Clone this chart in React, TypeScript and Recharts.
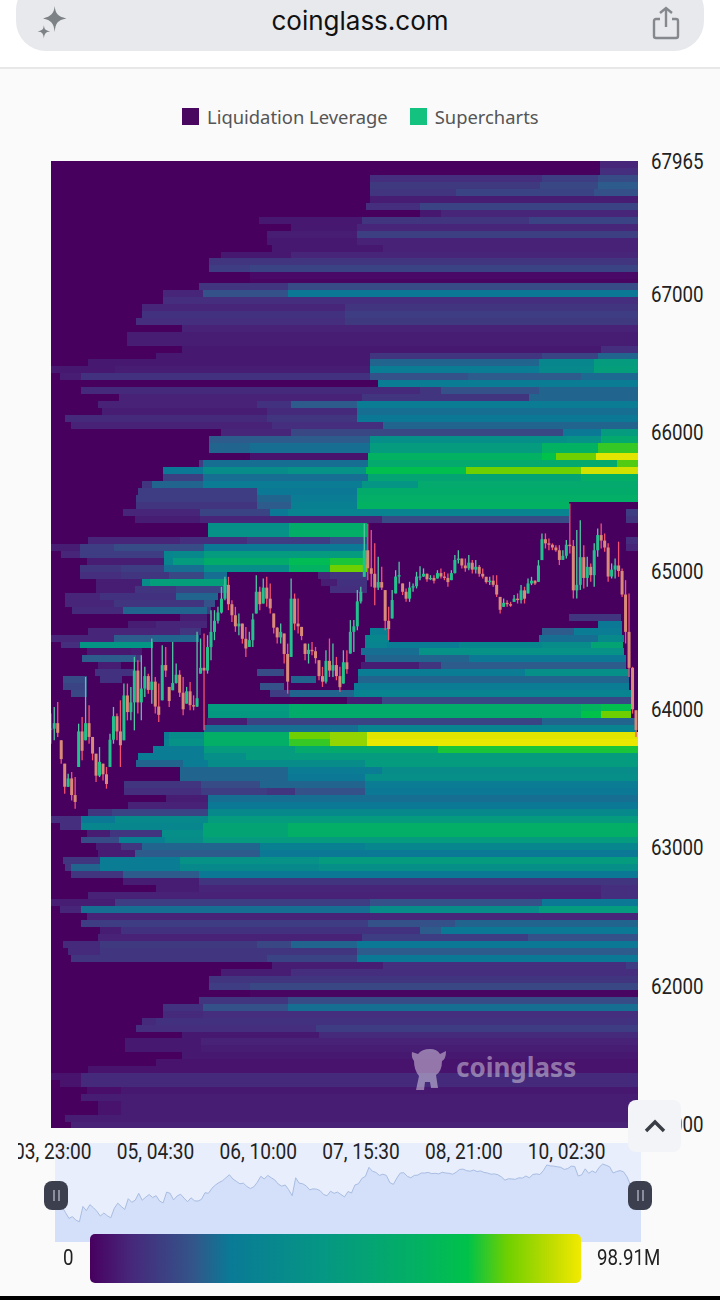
import React from "react";
import { ComposedChart, AreaChart, Area, Bar, XAxis, YAxis, ReferenceArea } from "recharts";

const legendItems = [
  { name: "Liquidation Leverage", color: "#4a0760" },
  { name: "Supercharts", color: "#12c27e" },
];
const priceTicks = [61000, 62000, 63000, 64000, 65000, 66000, 67000, 67965];
const timeTickHours = [0.5, 30, 59.5, 89, 118.5, 148];
const timeTickLabels = ["03, 23:00", "05, 04:30", "06, 10:00", "07, 15:30", "08, 21:00", "10, 02:30"];
const colorStops: [number, string][] = [
  [0, "#48005f"], [0.08, "#47267a"], [0.21, "#33558a"], [0.285, "#0a7a96"], [0.47, "#059684"],
  [0.66, "#03b064"], [0.77, "#00c24a"], [0.85, "#6fd000"], [0.94, "#c0dc00"], [1, "#f2ea00"],
];
const maxLeverage = 98.91;
const topPrice = 67965;
const bottomPrice = 60965;
const bandSize = 50.36;
const lastHour = 168.5;
const raisedRowsFrom = 18;
const raisedRowsTo = 41;

const heatRows: number[][][] = [
  [[157.6,8]],
  [[157.6,10]],
  [[91.6,10],[141,14],[157,18]],
  [[91.6,13],[140.5,17],[157,22]],
  [[91.6,12],[116.3,16],[156,20]],
  [[91.6,6]],
  [[90.5,10],[105.9,16]],
  [[105.9,5],[111.9,8]],
  [[59.7,5],[89.4,12],[137.2,16]],
  [[69,5],[87.7,8]],
  [[61.9,6],[87.7,15]],
  [[61.9,5],[87.7,7]],
  [[63.5,5],[95.4,7]],
  [[48.7,5],[69,8]],
  [[45.4,12]],
  [[45.4,14],[57,16]],
  [[57,2]],
  [[57,1]],
  [[42.6,12],[67.9,18]],
  [[32.2,8],[43.7,20],[67.9,28]],
  [[32.2,10]],
  [[26.1,8],[84.4,12]],
  [[26.1,11],[84.4,14]],
  [[24.5,10],[84.4,13]],
  [[37.7,7]],
  [[21.7,6]],
  [[21.7,6]],
  [[37.7,5],[158,10]],
  [[30,5],[91.6,12],[141,16],[157,24]],
  [[10.7,5],[91.6,24],[140,36],[156,50]],
  [[0,5],[18.4,6],[91.6,30],[140,38],[156,52]],
  [[2.5,6],[8.5,11],[91.6,20],[119.6,22],[152,25]],
  [[93.8,30]],
  [[8.5,9],[105.9,12],[111.9,20],[140,24]],
  [[19.6,7],[89.4,12],[137.2,24]],
  [[13.5,7],[59.1,11],[69,22],[87.7,30]],
  [[14.6,6],[61.9,9],[87.7,26]],
  [[4.1,9],[61.9,12],[87.7,28]],
  [[5.8,7],[63.5,10],[95.4,24]],
  [[48.7,8],[69,17],[147,28],[158,50]],
  [[45.4,22],[91.6,42],[148.2,44],[158,60]],
  [[45.4,24],[57,26],[91.6,50],[141,66],[157,80]],
  [[57,4],[91,66],[141,76],[145,84],[156.5,97]],
  [[42.6,14],[43.7,26],[91,60],[162.5,82]],
  [[32.2,28],[43.7,40],[67.9,44],[90.5,74],[119,84],[152,95]],
  [[32.2,15],[43.7,26],[91,56],[152,64]],
  [[26.1,12],[29,24],[43.7,30],[89.4,46],[105.3,60]],
  [[25,14],[59.1,28],[87.7,62]],
  [[24.5,14],[59.1,24],[69,30],[87.7,64]],
  [[24.5,12],[59.1,22],[69,32],[87.7,66],[148.7,0]],
  [[20.8,8],[42.8,16],[63,28],[68,34],[148.7,0],[165,14]],
  [[24,6],[42.8,8],[95,18],[148.7,0],[165,12]],
  [[45.2,42],[68.2,62],[90.7,0]],
  [[45.2,44],[68.2,64],[90.7,0]],
  [[10.7,8],[37,10],[56.2,14],[80,20],[90.7,0],[165,10]],
  [[0,6],[8.3,14],[18,18],[43.8,28],[90.7,0],[165,8]],
  [[3,8],[8.3,14],[32.3,36],[35,38],[43.8,50],[90.7,0]],
  [[10.2,6],[32.3,36],[35,50],[43.8,62],[68.2,72],[80.2,78],[90.7,0]],
  [[8.3,12],[20,14],[32.3,26],[43.8,42],[68.2,66],[80.2,84],[90.7,0]],
  [[8.3,10],[20,12],[34,17],[44,26],[50.5,0],[76.6,8],[80,12],[90.7,0]],
  [[13,6],[26,40],[28.5,52],[50.5,0],[77.5,6],[82,11],[90.7,0]],
  [[13,6],[24,12],[36,16],[50.5,0],[80,10],[90.7,0]],
  [[4,8],[14,11],[36,24],[48,0]],
  [[4,8],[18,12],[44,20],[47,0]],
  [[6,9],[20.8,24],[44.7,14],[46,0]],
  [[37,6],[44.7,0],[148.7,12],[163.5,0]],
  [[22,6],[30,8],[44.7,0],[157,28],[164,0]],
  [[10.7,8],[37,12],[43,0],[91.7,32],[97,0],[141,22],[150,30],[164,0]],
  [[0,8],[18,22],[29.4,24],[42.5,0],[90,36],[97,0],[140,26],[157,38],[164.5,0]],
  [[3,10],[8.3,46],[29.4,0],[90,34],[96.5,30],[117,36],[141,40],[155,56],[164.2,0]],
  [[10.2,5],[23,6],[26,0],[89,26],[105.6,44],[164.5,0]],
  [[8.8,22],[24.5,12],[26,0],[90,24],[120,28],[165,0]],
  [[13.5,6],[20,0],[89,6],[105.6,12],[112,22],[165,0]],
  [[12.6,11],[24,0],[59,18],[67,0],[88,30],[136,42],[166,0]],
  [[3.5,18],[10.2,0],[14,11],[20.5,0],[69,24],[76,0],[88,24],[166,0]],
  [[3.5,16],[10.2,0],[60,20],[67,0],[87,30],[166,0]],
  [[5.8,17],[10.2,0],[63,14],[68.7,24],[87,34],[166.5,0]],
  [[85,6],[95,17],[167,0]],
  [[45.2,50],[68.2,62],[152,68],[158,74],[166.4,0]],
  [[45.2,48],[68.2,62],[152,76],[158,84],[166.4,0]],
  [[44.7,6],[56.2,16],[90,16],[141,24],[167.5,0]],
  [[43.8,26],[88,34],[168.2,0]],
  [[32.3,30],[34,40],[43.8,64],[68.2,84],[80.2,88],[90.7,97]],
  [[32.3,34],[34,44],[43.8,64],[68.2,80],[80.2,88],[90.7,98]],
  [[29.4,30],[43.8,50],[70,60],[111,78]],
  [[25,30],[44,42],[56,50]],
  [[24.5,24],[38,30],[45,40],[90,50]],
  [[37,24],[68,30],[95,40]],
  [[37,24],[68,28],[90,42]],
  [[21,12],[43,18],[60,24],[90,30]],
  [[21,10],[43,14],[62,12],[70,20],[90,28]],
  [[33,6],[45,26]],
  [[22,7],[45,28]],
  [[10.7,12],[17.4,16],[45,38]],
  [[0,10],[8.5,28],[18.4,38],[45,50]],
  [[2.5,10],[8.5,36],[43.7,56],[67.9,64]],
  [[10.2,6],[17,12],[32,42],[43.7,56],[67.9,64]],
  [[8.5,18],[19.5,32],[32.7,40],[43.7,50]],
  [[13,6],[20,12],[26,24],[60,32],[90,36]],
  [[13.5,6],[24,22],[60,28],[100,28]],
  [[3.5,12],[14,30],[37,44],[77,50]],
  [[4,12],[5.8,24],[14,30],[37,38],[77,42]],
  [[5.8,12],[20.8,22],[42.6,28]],
  [[20.8,6],[42.6,12]],
  [[30,6],[42.6,8],[158,10]],
  [[10.7,7],[158,10]],
  [[0,6],[18.4,14],[91.6,20],[141,28]],
  [[2.5,8],[8.5,26],[91.6,40],[140,50]],
  [[10.2,7],[91.6,8]],
  [[8.5,14],[91,20],[116,24]],
  [[14,6],[20,11],[105.9,22],[112,28]],
  [[13.5,7],[89.4,14],[137,20]],
  [[3.5,9],[14,13],[59,17],[69,24],[87.7,28]],
  [[5,9],[14,12],[87.7,22]],
  [[5.8,12],[61.9,16],[87.7,28]],
  [[63.5,6],[95.4,10],[165,14]],
  [[48.7,6],[69,10]],
  [[45.4,12]],
  [[45.4,14],[57,17]],
  [[57,1]],
  [[42.6,12],[67.9,18]],
  [[32.2,11],[43.7,20],[67.9,26]],
  [[32.2,9],[43.7,10]],
  [[26,9],[30,11]],
  [[24.5,10],[76,14]],
  [[37.7,5],[77,9]],
  [[21.2,5],[43,7]],
  [[21.2,5],[43,6]],
  [[37.7,5]],
  [[30,4]],
  [[10.7,4]],
  [[0,4],[8.5,9]],
  [[2.5,4],[8.5,9]],
  [[10.2,3],[20,5]],
  [[8.5,6]],
  [[13.5,4],[20,6]],
  [[13.5,4],[20,6]],
  [[4,6]],
  [[5.8,7]],
];

const candleHigh = [63969,64017,64053,63776,63607,63534,63546,63510,63896,63945,64234,64029,63800,63679,63727,63607,63583,63824,64017,63969,64065,64186,64186,64162,64379,64355,64391,64307,64258,64512,64234,64186,64463,64451,64162,64487,64331,64282,64234,64162,64198,64101,64560,64512,64548,64536,64717,64717,64741,64886,64958,64958,64789,64741,64693,64620,64596,64560,64693,64970,64886,64946,64958,64910,64693,64596,64620,64548,64475,64946,64837,64801,64596,64475,64475,64487,64451,64355,64307,64427,64512,64475,64379,64307,64427,64427,64645,64645,64862,64886,65344,65344,65296,65200,65103,65031,64862,64741,64862,65006,65067,64910,64874,64922,64910,64994,65035,65019,64982,64970,64970,65006,65019,64994,64982,65006,65115,65151,65091,65091,65115,65079,65079,65043,65019,64958,64958,64970,64970,64813,64801,64789,64777,64826,64838,64898,64886,64946,64958,64934,65079,65272,65272,65236,65200,65187,65187,65151,65224,65489,65224,65296,65368,65187,65103,65055,65200,65308,65344,65272,65200,65055,65091,65212,65019,64934,64838,64307,63993];
const candleLow = [63751,63776,63800,63607,63390,63438,63341,63281,63583,63631,63776,63751,63631,63474,63510,63486,63426,63583,63751,63776,63583,63776,63920,63920,63848,63969,63920,64089,64113,64041,63969,63908,64065,64234,64017,64138,64186,64089,63957,64041,63993,63993,64017,64258,63848,64258,64355,64500,64620,64693,64789,64717,64632,64560,64536,64475,64379,64451,64451,64693,64717,64765,64741,64693,64548,64475,64475,64331,64113,64379,64572,64548,64500,64355,64331,64391,64331,64210,64162,64186,64234,64234,64210,64125,64186,64258,64403,64415,64572,64765,64958,64934,64886,64753,64862,64862,64572,64500,64657,64838,64910,64826,64777,64777,64850,64874,64934,64958,64922,64934,64910,64946,64946,64934,64886,64934,64982,65055,65019,64994,65006,64982,64982,64958,64946,64910,64898,64886,64813,64693,64741,64741,64741,64777,64765,64765,64765,64838,64898,64898,64922,65079,65163,65151,65151,65139,65043,65079,65091,65127,64801,64801,64862,64874,64886,64922,64886,65103,65163,65139,64922,64946,64946,64958,64813,64476,64234,63969,63800];
const candleClose = [63860,63900,63830,63640,63440,63500,63380,63330,63840,63700,63900,63800,63680,63520,63620,63530,63460,63780,63950,63840,63740,64100,63980,64050,64280,64050,64150,64240,64140,64200,64020,63960,64320,64280,64060,64190,64250,64120,64000,64130,64030,64020,64080,64300,64280,64450,64560,64640,64700,64800,64900,64760,64680,64600,64620,64510,64440,64500,64650,64850,64760,64880,64800,64730,64590,64520,64560,64400,64200,64800,64620,64600,64530,64400,64430,64420,64370,64240,64200,64350,64280,64320,64240,64160,64340,64290,64560,64600,64780,64850,65150,65020,64980,64880,64920,64880,64640,64580,64790,64960,64970,64850,64800,64880,64890,64960,64960,64980,64940,64950,64930,64985,64960,64950,64920,64985,65080,65090,65040,65020,65060,65010,65030,64980,64960,64920,64930,64900,64830,64720,64770,64760,64750,64800,64790,64860,64800,64910,64930,64910,65040,65230,65200,65190,65170,65150,65080,65110,65190,65180,64860,64900,65100,64950,65030,64970,65150,65260,65220,65170,64960,65010,65040,65000,64830,64560,64300,64000,63850];

const candleData = candleClose.map((close, hour) => ({
  hour,
  close,
  open: hour === 0 ? close : candleClose[hour - 1],
  high: candleHigh[hour],
  low: candleLow[hour],
  range: [candleLow[hour], candleHigh[hour]],
}));

function hexRgb(h: string) {
  return [parseInt(h.slice(1, 3), 16), parseInt(h.slice(3, 5), 16), parseInt(h.slice(5, 7), 16)];
}
function heatColor(v: number) {
  const f = Math.min(1, v / maxLeverage);
  for (let i = 1; i < colorStops.length; i++) {
    if (f <= colorStops[i][0]) {
      const [p0, c0] = colorStops[i - 1];
      const [p1, c1] = colorStops[i];
      const t = (f - p0) / (p1 - p0);
      const a = hexRgb(c0), b = hexRgb(c1);
      return `rgb(${a.map((x, k) => Math.round(x + (b[k] - x) * t)).join(",")})`;
    }
  }
  return colorStops[colorStops.length - 1][1];
}

function CrispRect(p: any) {
  return <rect x={p.x} y={p.y} width={p.width} height={p.height} fill={p.fill} shapeRendering="crispEdges" />;
}

function Candle(p: any) {
  const { x, y, width, height, payload } = p;
  const k = height / Math.max(1, payload.high - payload.low);
  const up = payload.close >= payload.open;
  const cx = x + width / 2;
  const top = y + (payload.high - Math.min(payload.high, Math.max(payload.open, payload.close))) * k;
  const bot = y + (payload.high - Math.max(payload.low, Math.min(payload.open, payload.close))) * k;
  return (
    <g style={{ filter: "blur(0.35px)" }}>
      <line x1={cx} x2={cx} y1={y} y2={y + height} stroke={up ? "#4fc7a0" : "#f4506f"} strokeWidth={1.3} />
      <rect x={cx - 1.5} y={top} width={3} height={Math.max(1, bot - top)} fill={up ? "#22c28c" : "#d98a78"} />
    </g>
  );
}

const axisFontFamily = "Roboto, sans-serif";
const axisFontSize = 21.5;
const chartMargin = { top: 21, right: 0, bottom: 0, left: 33 };

function PriceTick(p: any) {
  return (
    <text transform={`translate(${p.x},${p.y}) scale(0.87,1)`} dy="0.36em" textAnchor="start" fontFamily={axisFontFamily} fontSize={axisFontSize} fill="#222">
      {p.payload.value}
    </text>
  );
}
function TimeTick(p: any) {
  return (
    <text transform={`translate(${p.x},${p.y}) scale(0.89,1)`} dy="0.71em" textAnchor="middle" fontFamily={axisFontFamily} fontSize={axisFontSize} fill="#222">
      {timeTickLabels[timeTickHours.indexOf(p.payload.value)]}
    </text>
  );
}

function Handle({ left }: { left: number }) {
  return (
    <div style={{ position: "absolute", left, top: 1181, width: 24, height: 29, borderRadius: 8, background: "#3c3f4e", display: "flex", alignItems: "center", justifyContent: "center", gap: 3 }}>
      <div style={{ width: 2, height: 11, background: "#8b8e9c" }} />
      <div style={{ width: 2, height: 11, background: "#8b8e9c" }} />
    </div>
  );
}

export default function App() {
  const segments: any[] = [];
  heatRows.forEach((row, i) => {
    const raised = i >= raisedRowsFrom && i <= raisedRowsTo;
    const y1 = topPrice - bandSize * (raised ? i - 0.5 : i);
    const y2 = y1 - bandSize * (i === raisedRowsTo ? 1.5 : 1);
    row.forEach((seg, j) => {
      const end = j + 1 < row.length ? row[j + 1][0] : lastHour;
      if (seg[1] > 0) segments.push({ key: `${i}-${j}`, x1: seg[0], x2: end, y1, y2: Math.max(y2, bottomPrice), fill: heatColor(seg[1]) });
    });
  });
  const gradient = colorStops.map(([p, c]) => `${c} ${p * 100}%`).join(",");
  const narrowLabel = (left: number, text: string) => (
    <div style={{ position: "absolute", left, top: 1245, fontFamily: axisFontFamily, fontSize: axisFontSize, color: "#222", transform: "scaleX(0.87)", transformOrigin: "left center" }}>{text}</div>
  );
  return (
    <div style={{ position: "absolute", left: 0, top: 0, width: 720, height: 1300, background: "#fff", overflow: "hidden", fontFamily: "Inter, sans-serif" }}>
      <div style={{ position: "absolute", left: 16, top: -20, width: 688, height: 71, borderRadius: 30, background: "#e8e9ed" }} />
      <div style={{ position: "absolute", left: 0, width: 720, top: 5, textAlign: "center", fontFamily: "Inter, sans-serif", fontSize: 26, color: "#111" }}>coinglass.com</div>
      <svg style={{ position: "absolute", left: 32, top: 6 }} width={40} height={36} viewBox="0 0 44 40">
        <path d="M25 0 C26 9 28 11 38 14 C28 16 26 19 25 29 C24 19 21 16 12 14 C21 11 24 9 25 0Z" fill="#7d8287" />
        <path d="M13 21 C13.6 26 14.4 27 20 28 C14.4 29 13.6 31 13 36 C12.4 31 11.6 29 6 28 C11.6 27 12.4 26 13 21Z" fill="#7d8287" />
      </svg>
      <svg style={{ position: "absolute", left: 650, top: 5 }} width={32} height={36} viewBox="0 0 32 36" fill="none" stroke="#85898e" strokeWidth={2.4}>
        <path d="M10 14 H6 Q4 14 4 16 V31 Q4 33 6 33 H26 Q28 33 28 31 V16 Q28 14 26 14 H22" />
        <path d="M16 22 V3 M10 8 L16 3 L22 8" />
      </svg>
      <div style={{ position: "absolute", left: 0, top: 67, width: 720, height: 1229, background: "#fafafa", borderTop: "2px solid #e8e8e8", boxSizing: "border-box" }} />
      <div style={{ position: "absolute", left: 0, top: 1296, width: 720, height: 4, background: "#000" }} />

      <div style={{ position: "absolute", left: 182, top: 104, display: "flex", alignItems: "center", fontFamily: "'Noto Sans', sans-serif", fontSize: 18.4, color: "#555" }}>
        {legendItems.map((it, i) => (
          <React.Fragment key={it.name}>
            <span style={{ display: "inline-block", width: 17, height: 17, background: it.color, marginLeft: i ? 22 : 0, marginRight: 8 }} />
            <span>{it.name}</span>
          </React.Fragment>
        ))}
      </div>

      <div style={{ position: "absolute", left: 55, top: 1143, width: 586, height: 99, background: "#e9eefc" }}>
        <AreaChart width={586} height={99} data={candleData} margin={{ top: 0, right: 0, bottom: 0, left: 0 }}>
          <XAxis dataKey="hour" type="number" domain={[0, 168]} hide />
          <YAxis type="number" domain={[62650, 65965]} hide />
          <Area type="linear" dataKey="close" stroke="#a8bde2" strokeWidth={1} fill="#d4dff9" fillOpacity={1} isAnimationActive={false} />
        </AreaChart>
      </div>

      <div style={{ position: "absolute", left: 51, top: 161, width: 587, height: 967, overflow: "hidden" }}>
        <div style={{ position: "absolute", left: -33, top: -21, filter: "blur(0.7px)" }}>
          <ComposedChart width={702} height={1030} data={candleData} margin={chartMargin}>
            <XAxis dataKey="hour" type="number" domain={[0, lastHour]} height={41} tick={false} axisLine={false} tickLine={false} allowDataOverflow />
            <YAxis orientation="right" type="number" domain={[bottomPrice, topPrice]} width={82} tick={false} axisLine={false} tickLine={false} allowDataOverflow />
            <ReferenceArea x1={0} x2={lastHour} y1={bottomPrice} y2={topPrice} fill="#48005f" fillOpacity={1} shape={CrispRect} />
            {segments.map((s) => (
              <ReferenceArea key={s.key} x1={s.x1} x2={s.x2} y1={s.y1} y2={s.y2} fill={s.fill} fillOpacity={1} shape={CrispRect} />
            ))}
          </ComposedChart>
        </div>
      </div>

      <div style={{ position: "absolute", left: 18, top: 140, width: 702, height: 1030, overflow: "hidden" }}>
        <ComposedChart width={702} height={1030} data={candleData} margin={chartMargin}>
          <XAxis dataKey="hour" type="number" domain={[0, lastHour]} ticks={timeTickHours} interval={0} height={41}
            axisLine={false} tickLine={false} tickMargin={9} tick={<TimeTick />} allowDataOverflow />
          <YAxis orientation="right" type="number" domain={[bottomPrice, topPrice]} ticks={priceTicks} interval={0} width={82}
            axisLine={false} tickLine={false} tickMargin={7} tick={<PriceTick />} allowDataOverflow />
          <Bar dataKey="range" barSize={3} shape={Candle} isAnimationActive={false} />
        </ComposedChart>
      </div>

      <svg style={{ position: "absolute", left: 410, top: 1046 }} width={38} height={46} viewBox="0 0 38 46" fill="#fff" fillOpacity={0.42}>
        <path d="M2 6 L8 8 Q12 3 20 3 Q27 3 30 8 L36 5 Q36 13 32 15 Q32 25 26 29 L28 42 L21 42 L20 36 L15 36 L14 44 L6 44 L9 30 Q4 24 4 15 Q1 11 2 6Z" />
      </svg>
      <div style={{ position: "absolute", left: 456, top: 1049, fontFamily: "'Noto Sans', sans-serif", fontWeight: 700, fontSize: 26, color: "rgba(255,255,255,0.42)" }}>coinglass</div>

      <div style={{ position: "absolute", left: 628, top: 1100, width: 53, height: 52, borderRadius: 8, background: "#f2f4f8", display: "flex", alignItems: "center", justifyContent: "center" }}>
        <svg width={22} height={14} viewBox="0 0 22 14" fill="none" stroke="#3a3d45" strokeWidth={3.4}><path d="M2 12 L11 3 L20 12" /></svg>
      </div>
      <Handle left={44} />
      <Handle left={628} />

      <div style={{ position: "absolute", left: 90, top: 1234, width: 491, height: 49, borderRadius: 5, background: `linear-gradient(to right, ${gradient})` }} />
      {narrowLabel(63, "0")}
      {narrowLabel(597, "98.91M")}
    </div>
  );
}
